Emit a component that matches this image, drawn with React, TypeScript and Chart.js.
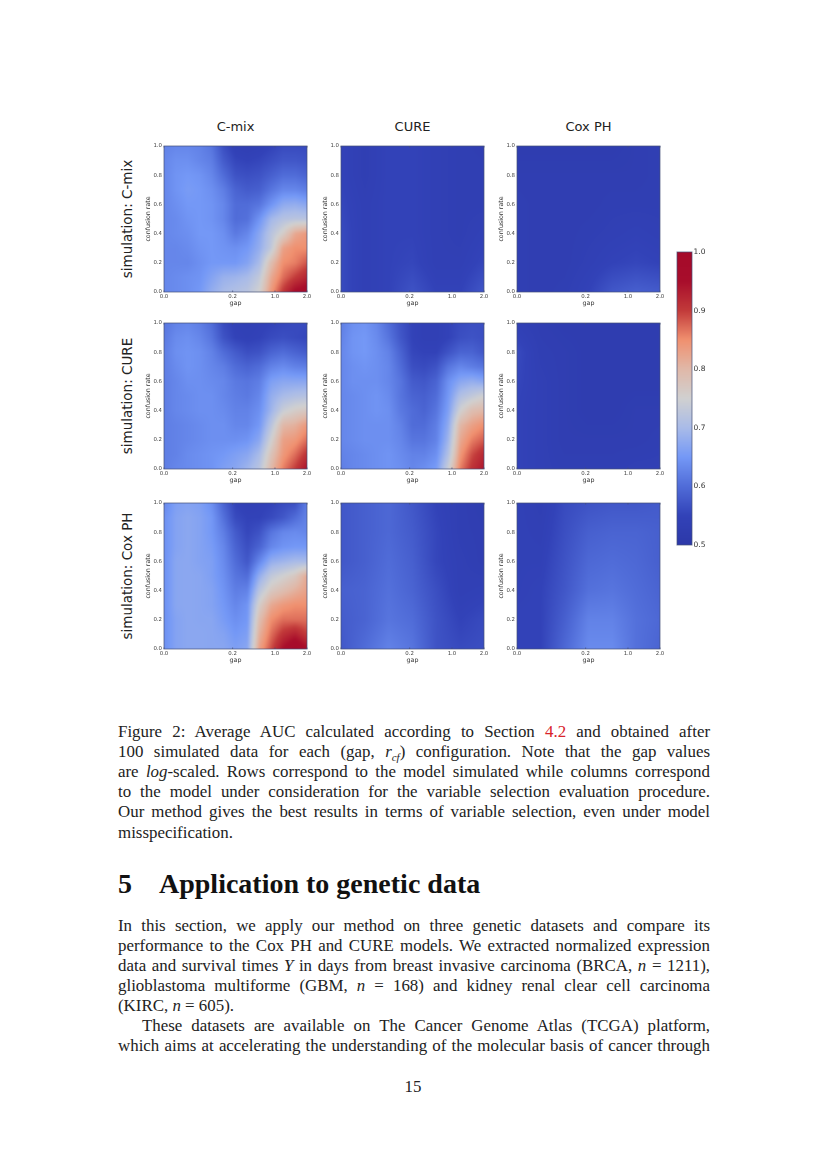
import { useEffect, useRef } from "react"
import { Chart, registerables } from "chart.js"

Chart.register(...registerables)

const modelNames = ["C-mix", "CURE", "Cox PH"]
const simulationLabels = ["simulation: C-mix", "simulation: CURE", "simulation: Cox PH"]

const xTickPositions = [0, 0.48, 0.776, 1]
const xTickLabels = ["0.0", "0.2", "1.0", "2.0"]

// AUC, rows go from confusion rate 1.0 down to 0.0
const cmixCmix = [
  [0.625, 0.63, 0.63, 0.625, 0.61, 0.565, 0.54, 0.535, 0.54, 0.55, 0.56, 0.56, 0.56],
  [0.63, 0.64, 0.64, 0.63, 0.62, 0.58, 0.555, 0.55, 0.555, 0.565, 0.575, 0.575, 0.57],
  [0.63, 0.645, 0.65, 0.645, 0.63, 0.6, 0.57, 0.565, 0.57, 0.585, 0.6, 0.6, 0.59],
  [0.63, 0.645, 0.655, 0.65, 0.64, 0.62, 0.59, 0.58, 0.585, 0.61, 0.63, 0.63, 0.62],
  [0.63, 0.64, 0.65, 0.65, 0.645, 0.63, 0.6, 0.6, 0.61, 0.645, 0.675, 0.68, 0.67],
  [0.63, 0.635, 0.645, 0.65, 0.645, 0.63, 0.6, 0.605, 0.645, 0.695, 0.715, 0.72, 0.72],
  [0.63, 0.635, 0.64, 0.65, 0.65, 0.64, 0.615, 0.63, 0.67, 0.72, 0.76, 0.82, 0.84],
  [0.63, 0.63, 0.635, 0.645, 0.65, 0.645, 0.64, 0.65, 0.68, 0.73, 0.83, 0.85, 0.85],
  [0.63, 0.63, 0.63, 0.64, 0.65, 0.65, 0.65, 0.665, 0.7, 0.79, 0.85, 0.86, 0.885],
  [0.63, 0.635, 0.64, 0.645, 0.665, 0.685, 0.69, 0.7, 0.73, 0.82, 0.87, 0.9, 0.925],
  [0.63, 0.635, 0.64, 0.65, 0.68, 0.7, 0.71, 0.72, 0.75, 0.84, 0.905, 0.955, 0.97],
]
const cmixCure = [
  [0.55, 0.535, 0.55, 0.55, 0.54, 0.535, 0.53],
  [0.55, 0.535, 0.55, 0.55, 0.54, 0.535, 0.535],
  [0.555, 0.54, 0.55, 0.55, 0.54, 0.535, 0.535],
  [0.56, 0.54, 0.55, 0.55, 0.54, 0.535, 0.545],
  [0.56, 0.54, 0.55, 0.555, 0.54, 0.54, 0.555],
  [0.56, 0.54, 0.55, 0.57, 0.55, 0.55, 0.575],
]
const cmixCox = [
  [0.525, 0.525, 0.525, 0.525, 0.525, 0.53, 0.535],
  [0.53, 0.53, 0.53, 0.53, 0.53, 0.53, 0.535],
  [0.535, 0.53, 0.53, 0.53, 0.535, 0.535, 0.535],
  [0.535, 0.53, 0.53, 0.535, 0.54, 0.545, 0.54],
  [0.535, 0.53, 0.53, 0.54, 0.55, 0.555, 0.55],
  [0.535, 0.53, 0.535, 0.55, 0.575, 0.585, 0.58],
]
const cureCmix = [
  [0.61, 0.625, 0.63, 0.62, 0.6, 0.56, 0.545, 0.54, 0.545, 0.55, 0.555, 0.56, 0.56],
  [0.615, 0.635, 0.64, 0.63, 0.61, 0.57, 0.55, 0.545, 0.55, 0.56, 0.565, 0.56, 0.555],
  [0.62, 0.64, 0.645, 0.64, 0.625, 0.6, 0.58, 0.565, 0.57, 0.59, 0.6, 0.59, 0.58],
  [0.62, 0.635, 0.645, 0.64, 0.63, 0.62, 0.6, 0.59, 0.6, 0.625, 0.635, 0.625, 0.62],
  [0.62, 0.63, 0.64, 0.64, 0.635, 0.63, 0.615, 0.61, 0.62, 0.66, 0.67, 0.67, 0.67],
  [0.62, 0.63, 0.635, 0.64, 0.64, 0.63, 0.62, 0.615, 0.63, 0.68, 0.7, 0.71, 0.715],
  [0.62, 0.63, 0.635, 0.64, 0.64, 0.635, 0.625, 0.625, 0.64, 0.69, 0.74, 0.76, 0.77],
  [0.62, 0.625, 0.63, 0.635, 0.64, 0.64, 0.63, 0.63, 0.65, 0.72, 0.8, 0.81, 0.84],
  [0.62, 0.625, 0.63, 0.635, 0.64, 0.64, 0.64, 0.645, 0.67, 0.75, 0.83, 0.84, 0.87],
  [0.62, 0.625, 0.635, 0.64, 0.645, 0.65, 0.66, 0.67, 0.7, 0.78, 0.84, 0.87, 0.91],
  [0.62, 0.63, 0.635, 0.64, 0.645, 0.66, 0.67, 0.69, 0.72, 0.8, 0.86, 0.9, 0.945],
]
const cureCure = [
  [0.62, 0.64, 0.645, 0.63, 0.6, 0.57, 0.55, 0.54, 0.54, 0.55, 0.56, 0.565, 0.565],
  [0.625, 0.645, 0.65, 0.635, 0.61, 0.575, 0.55, 0.54, 0.54, 0.55, 0.565, 0.57, 0.565],
  [0.63, 0.645, 0.65, 0.64, 0.625, 0.59, 0.555, 0.55, 0.55, 0.57, 0.59, 0.59, 0.575],
  [0.63, 0.64, 0.645, 0.64, 0.63, 0.6, 0.565, 0.56, 0.57, 0.61, 0.63, 0.62, 0.61],
  [0.63, 0.64, 0.64, 0.64, 0.63, 0.61, 0.58, 0.575, 0.59, 0.64, 0.67, 0.68, 0.67],
  [0.63, 0.635, 0.64, 0.645, 0.635, 0.61, 0.59, 0.585, 0.6, 0.65, 0.71, 0.73, 0.75],
  [0.63, 0.635, 0.64, 0.645, 0.64, 0.615, 0.6, 0.59, 0.61, 0.66, 0.75, 0.79, 0.8],
  [0.63, 0.635, 0.64, 0.64, 0.64, 0.625, 0.6, 0.6, 0.62, 0.675, 0.8, 0.83, 0.85],
  [0.63, 0.635, 0.64, 0.64, 0.64, 0.63, 0.61, 0.61, 0.625, 0.69, 0.82, 0.86, 0.88],
  [0.625, 0.63, 0.635, 0.64, 0.645, 0.635, 0.625, 0.625, 0.64, 0.71, 0.84, 0.89, 0.92],
  [0.62, 0.63, 0.635, 0.64, 0.645, 0.64, 0.63, 0.64, 0.655, 0.74, 0.86, 0.91, 0.94],
]
const cureCox = [
  [0.54, 0.53, 0.525, 0.525, 0.525, 0.525, 0.525],
  [0.56, 0.535, 0.53, 0.525, 0.525, 0.525, 0.525],
  [0.555, 0.54, 0.53, 0.525, 0.525, 0.525, 0.525],
  [0.55, 0.54, 0.53, 0.525, 0.525, 0.53, 0.53],
  [0.55, 0.54, 0.53, 0.53, 0.53, 0.53, 0.535],
  [0.55, 0.54, 0.535, 0.535, 0.535, 0.54, 0.54],
]
const coxCmix = [
  [0.63, 0.66, 0.665, 0.66, 0.64, 0.59, 0.55, 0.54, 0.545, 0.55, 0.56, 0.565, 0.62],
  [0.64, 0.665, 0.672, 0.665, 0.65, 0.605, 0.56, 0.55, 0.55, 0.56, 0.575, 0.6, 0.625],
  [0.64, 0.665, 0.672, 0.665, 0.65, 0.62, 0.58, 0.555, 0.57, 0.61, 0.63, 0.635, 0.63],
  [0.64, 0.665, 0.672, 0.665, 0.655, 0.63, 0.59, 0.565, 0.59, 0.63, 0.645, 0.65, 0.65],
  [0.64, 0.67, 0.672, 0.665, 0.66, 0.635, 0.6, 0.575, 0.63, 0.68, 0.69, 0.7, 0.7],
  [0.64, 0.67, 0.672, 0.67, 0.66, 0.64, 0.61, 0.6, 0.68, 0.73, 0.75, 0.77, 0.82],
  [0.64, 0.67, 0.672, 0.67, 0.665, 0.645, 0.62, 0.625, 0.72, 0.77, 0.79, 0.81, 0.83],
  [0.64, 0.67, 0.672, 0.67, 0.665, 0.65, 0.63, 0.645, 0.76, 0.82, 0.84, 0.85, 0.85],
  [0.64, 0.665, 0.672, 0.67, 0.67, 0.655, 0.64, 0.65, 0.79, 0.85, 0.87, 0.87, 0.87],
  [0.64, 0.665, 0.672, 0.672, 0.67, 0.665, 0.65, 0.66, 0.81, 0.87, 0.91, 0.93, 0.9],
  [0.64, 0.665, 0.672, 0.672, 0.67, 0.67, 0.66, 0.67, 0.83, 0.89, 0.95, 0.99, 0.95],
]
const coxCure = [
  [0.575, 0.585, 0.595, 0.575, 0.55, 0.535, 0.525],
  [0.575, 0.585, 0.595, 0.58, 0.555, 0.535, 0.53],
  [0.575, 0.585, 0.6, 0.585, 0.555, 0.54, 0.53],
  [0.585, 0.59, 0.605, 0.59, 0.565, 0.54, 0.545],
  [0.58, 0.59, 0.61, 0.6, 0.57, 0.55, 0.56],
  [0.575, 0.6, 0.625, 0.61, 0.57, 0.56, 0.565],
]
const coxCox = [
  [0.545, 0.535, 0.56, 0.57, 0.575, 0.575, 0.58],
  [0.545, 0.54, 0.565, 0.585, 0.59, 0.59, 0.585],
  [0.545, 0.545, 0.57, 0.595, 0.6, 0.595, 0.585],
  [0.545, 0.55, 0.575, 0.605, 0.61, 0.6, 0.59],
  [0.55, 0.55, 0.585, 0.625, 0.625, 0.605, 0.595],
  [0.55, 0.55, 0.595, 0.635, 0.635, 0.605, 0.59],
]

const panelGrids = [
  [cmixCmix, cmixCure, cmixCox],
  [cureCmix, cureCure, cureCox],
  [coxCmix, coxCure, coxCox],
]

// colormap stops
const colorValues = [0.5, 0.55, 0.6, 0.65, 0.7, 0.75, 0.8, 0.85, 0.9, 0.95, 1.0]
const colorStops = [
  [44, 56, 168], [50, 66, 184], [80, 108, 216], [116, 152, 246], [169, 187, 232], [208, 208, 208],
  [224, 184, 168], [240, 144, 111], [194, 58, 58], [168, 13, 43], [165, 10, 42],
]

const colLefts = [164, 341, 517]
const rowTops = [146, 323, 503]
const panelW = 143
const panelH = 146

function colorFor(v: number) {
  const n = colorValues.length - 1
  const t = Math.min(Math.max((v - colorValues[0]) / (colorValues[n] - colorValues[0]), 0), 0.9999) * n
  const i = Math.floor(t)
  const f = t - i
  return [0, 1, 2].map((k) => colorStops[i][k] + (colorStops[i + 1][k] - colorStops[i][k]) * f)
}

// paints the grid like imshow does, pixel by pixel through the chart's scales
function heatPlugin(grid: number[][]) {
  return {
    id: "heat",
    beforeDraw(chart: any) {
      const { ctx, chartArea, scales } = chart
      const xs = scales.x
      const ys = scales.y
      const w = Math.round(chartArea.right - chartArea.left)
      const h = Math.round(chartArea.bottom - chartArea.top)
      const off = document.createElement("canvas")
      off.width = w
      off.height = h
      const octx = off.getContext("2d")!
      const img = octx.createImageData(w, h)
      const rows = grid.length - 1
      const cols = grid[0].length - 1
      for (let py = 0; py < h; py++) {
        const yv = ys.getValueForPixel(chartArea.top + py + 0.5)
        const ry = Math.min(Math.max(((ys.max - yv) / (ys.max - ys.min)) * rows, 0), rows - 0.0001)
        const r = Math.floor(ry)
        const fy = ry - r
        for (let px = 0; px < w; px++) {
          const xv = xs.getValueForPixel(chartArea.left + px + 0.5)
          const cx = Math.min(Math.max(((xv - xs.min) / (xs.max - xs.min)) * cols, 0), cols - 0.0001)
          const c = Math.floor(cx)
          const fx = cx - c
          const top = grid[r][c] * (1 - fx) + grid[r][c + 1] * fx
          const bot = grid[r + 1][c] * (1 - fx) + grid[r + 1][c + 1] * fx
          const col = colorFor(top * (1 - fy) + bot * fy)
          const o = (py * w + px) * 4
          img.data[o] = col[0]
          img.data[o + 1] = col[1]
          img.data[o + 2] = col[2]
          img.data[o + 3] = 255
        }
      }
      octx.putImageData(img, 0, 0)
      ctx.save()
      ctx.beginPath()
      ctx.rect(chartArea.left, chartArea.top, w, h)
      ctx.clip()
      ctx.drawImage(off, chartArea.left, chartArea.top)
      ctx.filter = "blur(1.2px)"
      ctx.drawImage(off, chartArea.left, chartArea.top)
      ctx.restore()
    },
    afterDraw(chart: any) {
      const { ctx, chartArea, scales } = chart
      ctx.save()
      ctx.strokeStyle = "rgba(70,80,120,0.7)"
      ctx.lineWidth = 1
      ctx.strokeRect(chartArea.left, chartArea.top, chartArea.right - chartArea.left, chartArea.bottom - chartArea.top)
      ctx.beginPath()
      if (scales.x.options.display) {
        scales.x.ticks.forEach((t: any) => {
          const px = scales.x.getPixelForValue(t.value)
          ctx.moveTo(px, chartArea.bottom)
          ctx.lineTo(px, chartArea.bottom - 1.5)
          ctx.moveTo(px, chartArea.top)
          ctx.lineTo(px, chartArea.top + 1.5)
        })
      }
      ctx.stroke()
      ctx.restore()
    },
  }
}

function HeatPanel({ grid, left, top }: { grid: number[][]; left: number; top: number }) {
  const canvasRef = useRef<HTMLCanvasElement>(null)

  useEffect(() => {
    if (!canvasRef.current) return
    const chart = new Chart(canvasRef.current, {
      type: "scatter",
      data: { datasets: [{ data: [], pointRadius: 0 }] },
      plugins: [heatPlugin(grid)],
      options: {
        responsive: false,
        animation: false,
        layout: { padding: { top: 6, right: 8, left: 0, bottom: 0 } },
        plugins: { legend: { display: false }, tooltip: { enabled: false } },
        scales: {
          x: {
            type: "linear",
            min: 0,
            max: 1,
            afterFit: (s: any) => { s.height = 15 },
            afterBuildTicks: (s: any) => { s.ticks = xTickPositions.map((value) => ({ value })) },
            grid: { display: false, drawTicks: false },
            border: { display: false },
            title: { display: true, text: "gap", color: "#333", font: { size: 6.3, family: "DejaVu Sans" }, padding: 0 },
            ticks: {
              autoSkip: false,
              maxRotation: 0,
              padding: 1.5,
              color: "#444",
              font: { size: 5.4, family: "DejaVu Sans" },
              callback: (v: any) => xTickLabels[xTickPositions.indexOf(v)],
            },
          },
          y: {
            type: "linear",
            min: 0,
            max: 1,
            afterFit: (s: any) => { s.width = 19 },
            grid: { display: false, drawTicks: false },
            border: { display: false },
            title: { display: true, text: "confusion rate", color: "#333", font: { size: 6.3, family: "DejaVu Sans" }, padding: 0 },
            ticks: {
              stepSize: 0.2,
              padding: 2,
              color: "#444",
              font: { size: 5.4, family: "DejaVu Sans" },
              callback: (v: any) => Number(v).toFixed(1),
            },
          },
        },
      },
    } as any)
    return () => chart.destroy()
  }, [grid])

  return (
    <canvas
      ref={canvasRef}
      width={panelW + 19 + 8}
      height={panelH + 6 + 15}
      style={{ position: "absolute", left: left - 19, top: top - 6 }}
    />
  )
}

function ColorBar() {
  const canvasRef = useRef<HTMLCanvasElement>(null)

  useEffect(() => {
    if (!canvasRef.current) return
    const barGrid = [...colorValues].reverse().map((v) => [v, v])
    const chart = new Chart(canvasRef.current, {
      type: "scatter",
      data: { datasets: [{ data: [], pointRadius: 0 }] },
      plugins: [heatPlugin(barGrid)],
      options: {
        responsive: false,
        animation: false,
        layout: { padding: { top: 6, bottom: 6, left: 1, right: 0 } },
        plugins: { legend: { display: false }, tooltip: { enabled: false } },
        scales: {
          x: { type: "linear", display: false, min: 0, max: 1 },
          y: {
            type: "linear",
            position: "right",
            min: 0.5,
            max: 1,
            afterFit: (s: any) => { s.width = 20 },
            grid: { display: false, drawTicks: false },
            border: { display: false },
            ticks: {
              stepSize: 0.1,
              padding: 1.5,
              color: "#333",
              font: { size: 7.5, family: "DejaVu Sans" },
              callback: (v: any) => Number(v).toFixed(1),
            },
          },
        },
      },
    } as any)
    return () => chart.destroy()
  }, [])

  return <canvas ref={canvasRef} width={36} height={305} style={{ position: "absolute", left: 676, top: 246 }} />
}

const serif = "'Liberation Serif', serif"

function TextLine({ y, children, last, indent = 0 }: { y: number; children: any; last?: boolean; indent?: number }) {
  return (
    <div
      style={{
        position: "absolute",
        left: 118 + indent,
        width: 592 - indent,
        top: y - 9,
        height: 20,
        lineHeight: "20px",
        fontFamily: serif,
        fontSize: 16.9,
        color: "#222",
        whiteSpace: "nowrap",
        textAlign: last ? "left" : "justify",
        textAlignLast: last ? "left" : "justify",
      }}
    >
      {children}
    </div>
  )
}

export default function App() {
  return (
    <div style={{ position: "absolute", left: 0, top: 0, width: 827, height: 1169, overflow: "hidden", background: "#fff", filter: "blur(0.3px)" }}>
      {modelNames.map((name, c) => (
        <div
          key={name}
          style={{
            position: "absolute",
            left: colLefts[c] + panelW / 2 - 60,
            width: 120,
            top: 119,
            textAlign: "center",
            fontFamily: "DejaVu Sans",
            fontSize: 13,
            color: "#222",
          }}
        >
          {name}
        </div>
      ))}
      {simulationLabels.map((label, r) => (
        <div
          key={label}
          style={{
            position: "absolute",
            left: 127 - 80,
            width: 160,
            top: rowTops[r] + panelH / 2 - 9,
            height: 18,
            lineHeight: "18px",
            textAlign: "center",
            fontFamily: "DejaVu Sans",
            fontSize: 13.5,
            color: "#222",
            transform: "rotate(-90deg)",
          }}
        >
          {label}
        </div>
      ))}
      {panelGrids.map((row, r) =>
        row.map((grid, c) => <HeatPanel key={`${r}-${c}`} grid={grid} left={colLefts[c]} top={rowTops[r]} />)
      )}
      <ColorBar />

      <TextLine y={731}>Figure 2: Average AUC calculated according to Section <span style={{ color: "#d8232a" }}>4.2</span> and obtained after</TextLine>
      <TextLine y={751}>100 simulated data for each (gap, <i>r<sub style={{ fontSize: 11, lineHeight: 0 }}>cf</sub></i>) configuration. Note that the gap values</TextLine>
      <TextLine y={771}>are <i>log</i>-scaled. Rows correspond to the model simulated while columns correspond</TextLine>
      <TextLine y={791}>to the model under consideration for the variable selection evaluation procedure.</TextLine>
      <TextLine y={811}>Our method gives the best results in terms of variable selection, even under model</TextLine>
      <TextLine y={832} last>misspecification.</TextLine>

      <div style={{ position: "absolute", left: 118, top: 870, fontFamily: serif, fontWeight: "bold", fontSize: 28, lineHeight: "28px", color: "#111" }}>5</div>
      <div style={{ position: "absolute", left: 159, top: 870, fontFamily: serif, fontWeight: "bold", fontSize: 28, lineHeight: "28px", color: "#111", whiteSpace: "nowrap" }}>
        Application to genetic data
      </div>

      <TextLine y={925}>In this section, we apply our method on three genetic datasets and compare its</TextLine>
      <TextLine y={945}>performance to the Cox PH and CURE models. We extracted normalized expression</TextLine>
      <TextLine y={965}>data and survival times <i>Y</i> in days from breast invasive carcinoma (BRCA, <i>n</i> = 1211),</TextLine>
      <TextLine y={985}>glioblastoma multiforme (GBM, <i>n</i> = 168) and kidney renal clear cell carcinoma</TextLine>
      <TextLine y={1005} last>(KIRC, <i>n</i> = 605).</TextLine>
      <TextLine y={1025} indent={24}>These datasets are available on The Cancer Genome Atlas (TCGA) platform,</TextLine>
      <TextLine y={1045}>which aims at accelerating the understanding of the molecular basis of cancer through</TextLine>

      <div style={{ position: "absolute", left: 393, width: 40, top: 1077, textAlign: "center", fontFamily: serif, fontSize: 16.9, lineHeight: "20px", color: "#222" }}>
        15
      </div>
    </div>
  )
}
